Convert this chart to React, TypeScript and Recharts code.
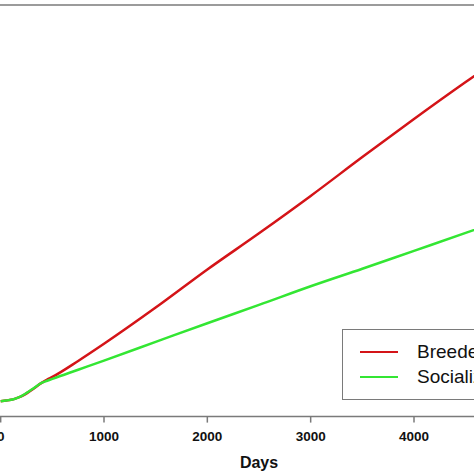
import { LineChart, Line, XAxis, YAxis, Legend, ReferenceLine } from "recharts"

// days since start
const days = [0, 50, 100, 150, 200, 300, 400, 450, 500, 750, 1000, 1500, 2000, 2500, 3000, 3500, 4000, 4500, 5000]
const breeders = [0, 2, 4, 8, 13, 30, 49, 57, 64, 106, 151, 246, 346, 441, 539, 641, 741, 838, 931]
const socializers = [0, 2, 4, 8, 14, 31, 49, 54, 59, 83, 107, 156, 205, 253, 302, 348, 395, 442, 490]
const xTicks = [0, 1000, 2000, 3000, 4000, 5000]

const data = days.map((d, i) => ({ day: d, breeders: breeders[i], socializers: socializers[i] }))

const RED = "#d41418"
const GREEN = "#33e633"
const AXIS = "#7a7a7a"

function LegendBox() {
  const row = (color: string, label: string) => (
    <div style={{ display: "flex", alignItems: "center", height: 24.5 }}>
      <div style={{ width: 38, height: 0, borderTop: `2.5px solid ${color}`, marginLeft: 17, marginRight: 19 }} />
      <span style={{ fontFamily: "Liberation Sans, Arial, sans-serif", fontSize: 19, color: "#111", whiteSpace: "nowrap" }}>
        {label}
      </span>
    </div>
  )
  return (
    <div style={{ width: 170, height: 71, border: `1.5px solid ${AXIS}`, boxSizing: "border-box", paddingTop: 10, background: "#fff" }}>
      {row(RED, "Breeders")}
      {row(GREEN, "Socializers")}
    </div>
  )
}

export default function App() {
  return (
    <div style={{ position: "absolute", left: 0, top: 0, width: 474, height: 474, overflow: "hidden", background: "#fff" }}>
      <div style={{ position: "absolute", left: -20, top: 0 }}>
        <LineChart width={558} height={474} data={data} margin={{ top: 5, right: 0, bottom: 0, left: 0 }}>
          <XAxis
            dataKey="day"
            type="number"
            domain={[-200, 5200]}
            ticks={xTicks}
            allowDataOverflow
            height={57.4}
            stroke={AXIS}
            strokeWidth={1.5}
            tickSize={6}
            tickMargin={9}
            tick={{ fill: "#111", fontSize: 13.5, fontWeight: 700, fontFamily: "Liberation Sans, Arial, sans-serif" }}
            label={{
              value: "Days",
              position: "insideBottom",
              offset: 6.5,
              fill: "#111",
              fontSize: 16,
              fontWeight: 700,
              fontFamily: "Liberation Sans, Arial, sans-serif",
            }}
          />
          <YAxis type="number" domain={[-40, 1040]} allowDataOverflow hide />
          <ReferenceLine y={1040} stroke={AXIS} strokeWidth={1.5} />
          <Legend
            layout="horizontal"
            verticalAlign="middle"
            align="center"
            wrapperStyle={{ position: "absolute", left: 362, top: 329, width: 170 }}
            content={() => <LegendBox />}
          />
          <Line type="monotone" dataKey="breeders" name="Breeders" stroke={RED} strokeWidth={2.5} dot={false} isAnimationActive={false} />
          <Line type="monotone" dataKey="socializers" name="Socializers" stroke={GREEN} strokeWidth={2.5} dot={false} isAnimationActive={false} />
        </LineChart>
      </div>
    </div>
  )
}
